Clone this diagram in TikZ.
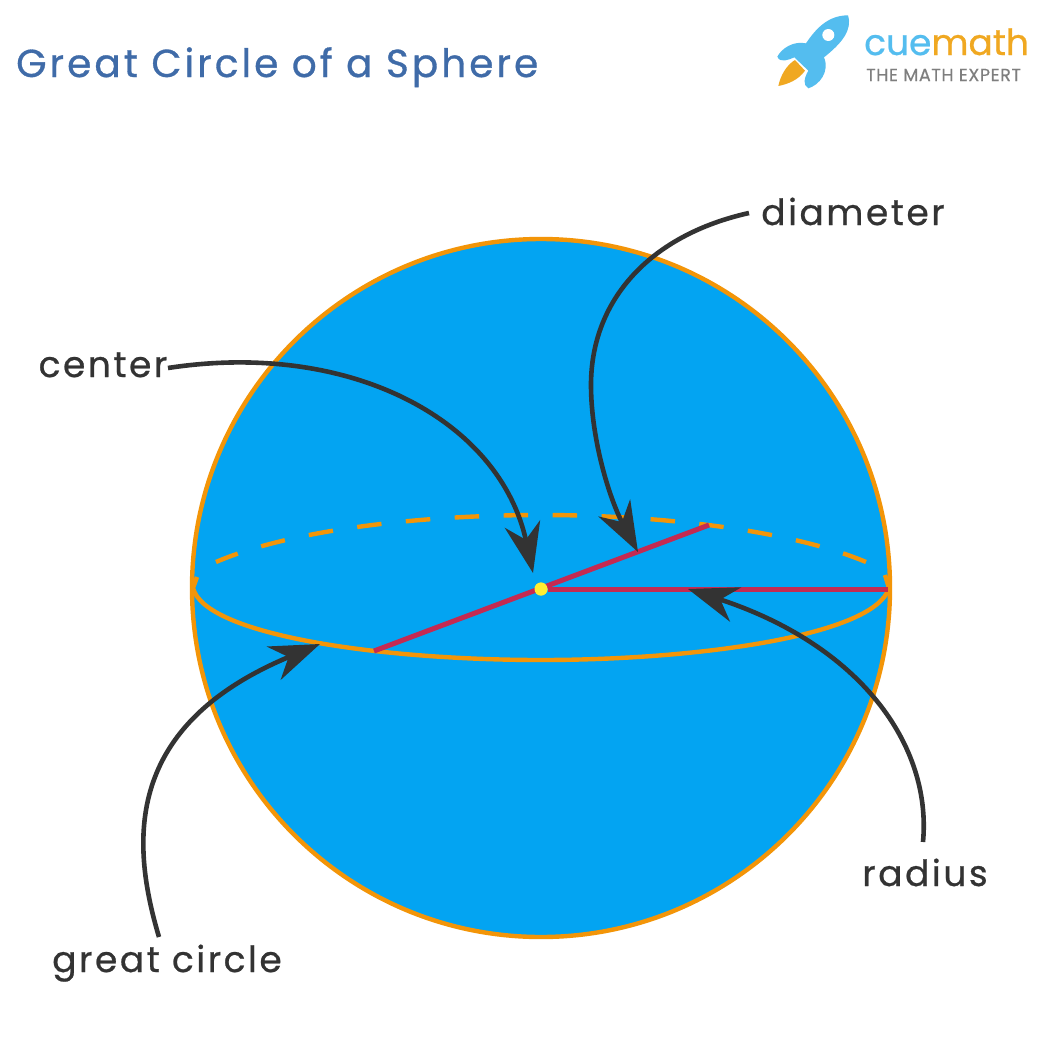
\documentclass[tikz,border=0pt]{standalone}
\usepackage{fontspec}
\usetikzlibrary{arrows.meta}
\setmainfont[LetterSpace=7,FakeBold=0.7]{Poppins}
\newfontfamily\titlefont[LetterSpace=7.8,FakeBold=0.8]{Poppins}
\newfontfamily\logofont[FakeBold=0.7]{Poppins}
\newfontfamily\tagfont[LetterSpace=3.5,FakeBold=0.4]{Poppins}
\definecolor{ballblue}{HTML}{03A4F2}
\definecolor{rimorange}{HTML}{F39508}
\definecolor{linered}{HTML}{C42A52}
\definecolor{inkdark}{HTML}{333333}
\definecolor{titleblue}{HTML}{3F6BA8}
\definecolor{logoblue}{HTML}{54BDEF}
\definecolor{logoamber}{HTML}{F0A821}
\definecolor{logogray}{HTML}{7E7E7E}
\definecolor{dotyellow}{HTML}{FFEE33}
\tikzset{
  rim/.style={draw=rimorange,line width=4.4pt},
  rimdash/.style={draw=rimorange,line width=4.4pt,dash pattern=on 24.5pt off 24.5pt},
  chord/.style={draw=linered,line width=5pt},
  callout/.style={draw=inkdark,line width=4.6pt,-{Stealth[length=50pt,width=36pt,inset=16pt,fill=inkdark]}},
  lab/.style={font=\fontsize{36}{40}\selectfont,text=inkdark,inner sep=0pt,anchor=base},
}
\begin{document}
\begin{tikzpicture}[x=1pt,y=-1pt]
\useasboundingbox (0,0) rectangle (1042,1042);
\fill[white] (0,0) rectangle (1042,1042);
% title
\node[inner sep=0pt,anchor=base west,text=titleblue,font=\titlefont\fontsize{39}{44}\selectfont] (title) at (16,77) {Great Circle of a Sphere};
% logo
\begin{scope}[shift={(760,0)},x=0.3333pt,y=-0.3333pt]
\fill[logoblue] (264,46) .. controls (205,46) and (168,85) .. (138,130)
  .. controls (100,122) and (65,145) .. (52,170) .. controls (60,190) and (85,180) .. (103,172)
  -- (145,212) .. controls (132,235) and (128,255) .. (145,265) .. controls (178,255) and (210,215) .. (192,172)
  .. controls (245,130) and (278,90) .. (264,46) -- cycle;
\fill[white] (205,105) circle (18);
\fill[logoamber] (55,258) .. controls (62,225) and (80,195) .. (105,180) -- (135,212) .. controls (115,240) and (85,252) .. (55,258) -- cycle;
\end{scope}
\node[inner sep=0pt,anchor=base west,font=\logofont\fontsize{36}{44}\selectfont] (cue) at (864,55) {\textcolor{logoblue}{cue}\textcolor{logoamber}{math}};
\node[inner sep=0pt,anchor=base west,text=logogray,font=\tagfont\fontsize{17.5}{20}\selectfont] (tag) at (866,81) {THE MATH EXPERT};
% sphere
\node[circle,fill=ballblue,draw=rimorange,line width=4.4pt,minimum size=698pt,inner sep=0pt] (ball) at (541,588) {};
% great circle
\draw[rimdash] (866,562) .. controls (790,530) and (660,515) .. (541,515) .. controls (420,515) and (290,530) .. (216,562);
\draw[rim] (885,575) -- (889,588) .. controls (875,635) and (700,660) .. (541,660) .. controls (380,660) and (205,635) .. (193,588) -- (197,577);
% chords
\coordinate (dback) at (709,525);
\coordinate (dfront) at (374,651);
\coordinate (redge) at (888,589);
\node[circle,fill=dotyellow,minimum size=13pt,inner sep=0pt] (mid) at (541,589) {};
\draw[chord] (dfront) -- (dback);
\draw[chord] (mid) -- (redge);
\node[circle,fill=dotyellow,minimum size=13pt,inner sep=0pt] at (mid) {};
% labels
\node[lab] (ldiam) at (853,225) {diameter};
\node[lab] (lcent) at (103,377) {center};
\node[lab] (lrad) at (925,886) {radius};
\node[lab] (lgreat) at (167,972) {great circle};
% arrow ends
\coordinate (tcent) at (533,573);
\coordinate (tdiam) at (638,552);
\coordinate (trad) at (688,589);
\coordinate (tgreat) at (320,644);
\coordinate (sdiam) at (749,213);
\coordinate (scent) at (168,368);
\coordinate (srad) at (923,842);
\coordinate (sgreat) at (159,937);
\draw[callout] (scent) .. controls (350,340) and (500,420) .. (tcent);
\draw[callout] (sdiam) .. controls (650,235) and (591,300) .. (591,385) .. controls (591,440) and (610,500) .. (tdiam);
\draw[callout] (srad) .. controls (932,745) and (860,645) .. (trad);
\draw[callout] (sgreat) .. controls (130,840) and (125,725) .. (tgreat);
\end{tikzpicture}
\end{document}
